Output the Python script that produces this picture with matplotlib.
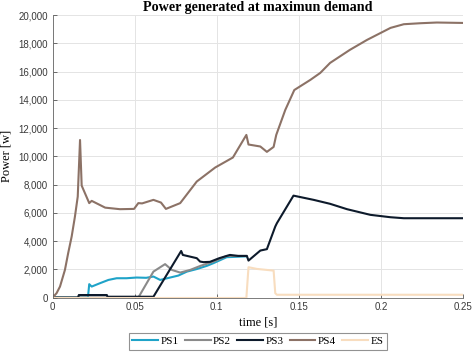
import matplotlib
matplotlib.use("Agg")
import matplotlib.pyplot as plt
from matplotlib.ticker import FuncFormatter

# time [s] and power [w] for each source
ps1_t = [0.0, 0.0215, 0.0223, 0.0238, 0.0289, 0.034, 0.039, 0.045, 0.0512, 0.057,
         0.0614, 0.0655, 0.0716, 0.0766, 0.0818, 0.0878, 0.094, 0.098, 0.106, 0.114, 0.118]
ps1_p = [0, 0, 950, 780, 1020, 1250, 1370, 1370, 1420, 1400,
         1490, 1250, 1420, 1560, 1840, 2020, 2250, 2440, 2860, 2900, 2920]

ps2_t = [0.0, 0.0155, 0.016, 0.033, 0.0335, 0.0522, 0.0614, 0.0685, 0.0726, 0.0777,
         0.0838, 0.0899, 0.098, 0.106, 0.118]
ps2_p = [0, 0, 150, 150, 0, 0, 1840, 2370, 1960, 1770,
         1960, 2240, 2550, 2950, 2950]

ps3_t = [0.0, 0.0155, 0.016, 0.033, 0.0335, 0.0614, 0.0783, 0.0793, 0.0878, 0.0898,
         0.0919, 0.0958, 0.1015, 0.108, 0.113, 0.1183, 0.1193, 0.1265, 0.1305, 0.1356,
         0.1366, 0.1467, 0.159, 0.169, 0.1793, 0.1935, 0.2058, 0.2139, 0.25]
ps3_p = [0, 0, 180, 180, 60, 60, 3300, 3020, 2790, 2550,
         2510, 2530, 2790, 3020, 2950, 2950, 2620, 3330, 3430, 5030,
         5270, 7220, 6920, 6640, 6260, 5860, 5690, 5620, 5620]

ps4_t = [0.0, 0.0024, 0.0045, 0.0075, 0.0095, 0.0116, 0.0136, 0.0153, 0.0167, 0.0177,
         0.0223, 0.0238, 0.032, 0.041, 0.0496, 0.0522, 0.0545, 0.0614, 0.066, 0.069,
         0.0777, 0.0878, 0.099, 0.1098, 0.118, 0.1193, 0.1265, 0.1305, 0.1346, 0.1362,
         0.1417, 0.1472, 0.157, 0.163, 0.169, 0.181, 0.1915, 0.2058, 0.2139, 0.224,
         0.234, 0.25]
ps4_p = [0, 310, 780, 1960, 3160, 4320, 5740, 7150, 11160, 7930,
         6690, 6850, 6370, 6260, 6280, 6690, 6670, 6920, 6730, 6280,
         6690, 8220, 9210, 9920, 11520, 10840, 10700, 10320, 10670, 11520,
         13290, 14700, 15420, 15910, 16620, 17540, 18250, 19100, 19360, 19430,
         19480, 19450]

es_t = [0.0, 0.118, 0.1193, 0.1244, 0.1346, 0.1356, 0.1366, 0.25]
es_p = [-30, -30, 2150, 2030, 1910, 310, 200, 200]

labels = ["PS1", "PS2", "PS3", "PS4", "ES"]
colors = ["#1fa3c8", "#8a8a8a", "#0d1a2b", "#8c7266", "#f8ddbf"]

fig = plt.figure(figsize=(4.74, 3.53), dpi=100)
ax = fig.add_axes([0.111, 0.157, 0.866, 0.8])

series = [(ps1_t, ps1_p), (ps2_t, ps2_p), (ps3_t, ps3_p), (ps4_t, ps4_p), (es_t, es_p)]
for (t, p), lab, c in zip(series, labels, colors):
    ax.plot(t, p, color=c, lw=1.5, label=lab)

ax.set_xlim(0, 0.25)
ax.set_ylim(0, 20000)
ax.set_xticks([0, 0.05, 0.1, 0.15, 0.2, 0.25])
ax.set_xticklabels(["0", "0.05", "0.1", "0.15", "0.2", "0.25"])
ax.set_yticks(range(0, 20001, 2000))
ax.yaxis.set_major_formatter(FuncFormatter(lambda v, pos: f"{int(v):,}"))
ax.tick_params(direction="in", length=3, width=0.6, labelsize=7,
               colors="#555555")
for lbl in ax.get_xticklabels() + ax.get_yticklabels():
    lbl.set_family("Liberation Sans")
    lbl.set_color("#3a3a3a")

ax.grid(True, color="#e4e4e4", lw=0.7)
ax.set_axisbelow(True)
for s in ["top", "right"]:
    ax.spines[s].set_visible(False)
for s in ["left", "bottom"]:
    ax.spines[s].set_color("#666666")
    ax.spines[s].set_linewidth(0.6)

ax.set_title("Power generated at maximun demand", family="Liberation Serif",
             fontweight="bold", fontsize=10.2, pad=3)
ax.set_xlabel("time [s]", family="Liberation Serif", fontsize=9, labelpad=3)
ax.set_ylabel("Power [w]", family="Liberation Serif", fontsize=9)
ax.yaxis.set_label_coords(-0.098, 0.5)

leg = ax.legend(loc="center", bbox_to_anchor=(0.5, -0.155), ncol=5,
                prop={"family": "Liberation Serif", "size": 8},
                frameon=True, fancybox=False, handlelength=2.3,
                columnspacing=0.6, handletextpad=0.2, borderpad=0.3)
leg.get_frame().set_edgecolor("#777777")
leg.get_frame().set_linewidth(0.8)

fig.savefig("out.png", dpi=100)
